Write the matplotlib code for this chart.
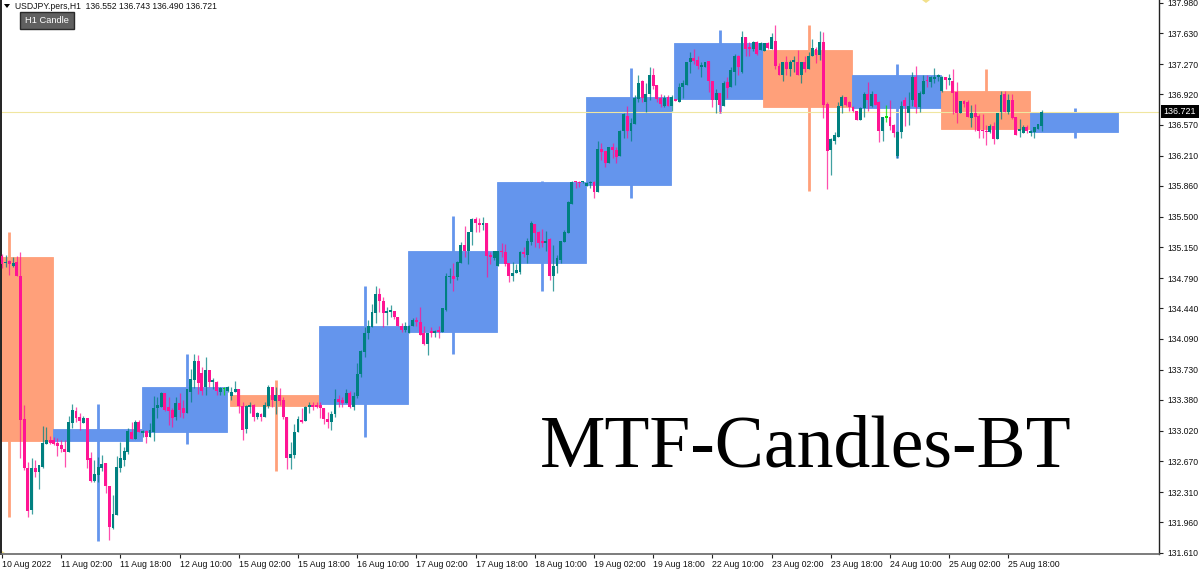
import matplotlib
matplotlib.use("Agg")
import matplotlib.pyplot as plt
from matplotlib.patches import Rectangle

opens = [135.05,134.96,134.99,134.93,134.98,134.82,133.16,132.59,132.10,132.59,
132.54,132.60,132.87,132.92,132.92,132.88,132.86,132.81,132.78,133.11,
133.25,133.18,133.11,133.17,132.70,132.44,132.51,132.59,132.65,132.38,
131.90,132.05,132.59,132.68,132.78,133.01,132.93,133.12,132.99,133.02,
132.95,133.01,133.28,133.30,133.46,133.30,133.26,133.18,133.34,133.28,
133.23,133.47,133.61,133.83,133.69,133.53,133.72,133.59,133.59,133.47,
133.50,133.48,133.43,133.47,133.51,133.31,133.04,133.30,133.32,133.18,
133.22,133.18,133.31,133.53,133.37,133.44,133.38,133.18,132.70,132.74,
133.01,133.15,133.14,133.30,133.32,133.32,133.32,133.29,133.16,133.12,
133.21,133.39,133.38,133.34,133.46,133.30,133.43,133.68,133.94,134.16,
134.22,134.39,134.61,134.52,134.39,134.40,134.41,134.34,134.24,134.19,
134.16,134.23,134.31,134.28,134.15,134.03,134.17,134.16,134.18,134.17,
134.42,134.80,134.82,134.80,134.97,135.17,135.11,135.32,135.48,135.43,
135.41,135.43,135.06,135.02,134.93,135.10,135.09,134.97,134.82,134.85,
134.86,135.09,135.06,135.21,135.42,135.32,135.21,135.20,135.24,134.81,
134.93,135.00,135.21,135.31,135.65,135.91,135.91,135.90,135.86,135.89,
135.91,135.79,136.29,136.26,136.13,136.31,136.28,136.21,136.49,136.67,
136.49,136.58,136.87,137.07,136.83,136.92,137.14,137.03,136.88,136.79,
136.89,136.78,136.87,136.83,137.00,137.03,137.29,137.34,137.32,137.24,
137.24,137.31,137.07,136.85,136.94,136.78,137.06,137.00,137.18,137.36,
137.18,137.59,137.46,137.45,137.53,137.44,137.42,137.52,137.45,137.54,
137.25,137.15,137.29,137.22,137.30,137.30,137.15,137.29,137.22,137.36,
137.45,137.38,137.53,136.81,136.27,136.38,136.43,136.78,136.89,136.83,
136.77,136.73,136.62,136.76,136.92,136.79,136.92,136.83,136.50,136.65,
136.66,136.57,136.21,136.48,136.85,136.71,136.86,137.12,136.77,136.93,
137.08,137.06,137.10,137.12,136.96,137.12,137.09,137.07,136.95,136.71,
136.84,136.83,136.65,136.71,136.67,136.50,136.49,136.48,136.55,136.40,
136.72,136.92,136.72,136.85,136.66,136.49,136.47,136.54,136.47,136.48,136.52,136.552]

closes = [134.95,134.98,134.95,134.97,134.82,133.15,132.59,132.09,132.59,132.54,
132.63,132.88,132.92,132.88,132.87,132.85,132.81,132.77,133.12,133.26,
133.17,133.14,133.17,132.68,132.44,132.52,132.60,132.64,132.38,131.91,
132.06,132.60,132.70,132.79,133.02,132.93,133.12,133.01,133.02,132.95,
133.03,133.29,133.32,133.46,133.26,133.25,133.17,133.34,133.26,133.23,
133.50,133.62,133.83,133.58,133.48,133.73,133.59,133.60,133.48,133.52,
133.50,133.53,133.47,133.51,133.31,133.03,133.31,133.32,133.18,133.23,
133.18,133.32,133.53,133.38,133.44,133.37,133.18,132.70,132.75,133.01,
133.16,133.12,133.30,133.32,133.30,133.30,133.28,133.16,133.12,133.21,
133.39,133.36,133.34,133.46,133.30,133.43,133.68,133.95,134.16,134.23,
134.40,134.61,134.52,134.39,134.40,134.41,134.34,134.24,134.19,134.24,
134.23,134.30,134.28,134.13,134.03,134.16,134.16,134.17,134.17,134.44,
134.81,134.81,134.78,134.98,135.18,135.11,135.32,135.48,135.43,135.41,
135.43,135.05,135.03,135.10,135.10,135.09,134.95,134.81,134.85,134.88,
135.09,135.07,135.22,135.43,135.31,135.20,135.20,135.22,134.81,134.93,
135.02,135.22,135.32,135.67,135.90,135.90,135.89,135.91,135.89,135.91,
135.79,136.29,136.25,136.13,136.31,136.27,136.20,136.50,136.69,136.49,
136.59,136.88,137.05,136.88,136.93,137.14,137.02,136.87,136.81,136.88,
136.79,136.89,136.84,137.01,137.05,137.29,137.34,137.31,137.25,137.25,
137.30,137.07,136.85,136.94,136.80,137.05,136.99,137.20,137.36,137.24,
137.59,137.45,137.45,137.53,137.39,137.52,137.51,137.46,137.59,137.25,
137.15,137.29,137.21,137.30,137.30,137.15,137.29,137.21,137.37,137.46,
137.38,137.53,136.80,136.26,136.40,136.45,136.79,136.89,136.80,136.77,
136.73,136.62,136.76,136.92,136.85,136.92,136.80,136.50,136.66,136.65,
136.55,136.47,136.48,136.79,136.78,136.79,137.12,136.77,136.94,137.08,
137.07,137.12,137.12,137.13,137.12,137.09,137.10,136.94,136.71,136.84,
136.81,136.66,136.71,136.66,136.50,136.49,136.48,136.55,136.40,136.70,
136.91,136.72,136.85,136.65,136.45,136.52,136.54,136.50,136.50,136.54,136.58,136.721]

highs = [135.07,135.06,135.00,135.03,135.05,135.09,133.32,132.66,132.70,132.68,
132.63,133.08,133.07,132.96,132.95,132.94,132.92,132.92,133.19,133.33,
133.30,133.23,133.19,133.17,132.77,132.68,132.72,132.74,132.65,132.38,
132.28,132.73,132.89,132.83,133.05,133.12,133.15,133.15,133.03,133.03,
133.11,133.43,133.41,133.47,133.46,133.41,133.29,133.41,133.46,133.38,
133.50,133.74,133.91,133.90,133.76,133.88,133.73,133.63,133.60,133.53,
133.53,133.54,133.53,133.60,133.51,133.36,133.32,133.36,133.33,133.24,
133.23,133.36,133.55,133.53,133.53,133.52,133.41,133.18,132.89,133.10,
133.19,133.29,133.31,133.35,133.36,133.36,133.35,133.29,133.24,133.25,
133.50,133.44,133.41,133.50,133.48,133.47,133.81,133.96,134.22,134.31,
134.49,134.70,134.68,134.57,134.46,134.48,134.41,134.34,134.27,134.28,
134.25,134.33,134.34,134.45,134.23,134.16,134.22,134.19,134.23,134.44,
134.85,134.91,134.97,134.99,135.21,135.40,135.32,135.49,135.50,135.49,
135.50,135.43,135.09,135.11,135.11,135.20,135.19,134.97,134.98,134.95,
135.10,135.15,135.26,135.45,135.42,135.34,135.36,135.34,135.25,135.17,
135.06,135.22,135.35,135.68,135.92,135.92,135.92,135.92,135.90,135.92,
135.92,136.38,136.36,136.26,136.31,136.36,136.31,136.51,136.71,136.78,
136.65,136.91,137.15,137.09,137.05,137.24,137.23,137.03,136.92,136.91,
136.91,136.91,136.87,137.05,137.09,137.29,137.41,137.45,137.37,137.30,
137.30,137.31,137.08,136.98,136.94,137.07,137.12,137.24,137.39,137.38,
137.66,137.59,137.53,137.54,137.54,137.53,137.52,137.53,137.63,137.72,
137.28,137.29,137.36,137.32,137.36,137.43,137.29,137.36,137.41,137.56,
137.47,137.65,137.64,136.83,136.42,136.48,136.83,136.91,136.89,136.84,
136.78,136.73,136.77,136.95,137.06,136.96,136.92,136.84,136.66,136.80,
136.86,136.58,136.49,136.84,136.89,136.95,137.18,137.25,136.96,137.15,
137.15,137.13,137.23,137.16,137.13,137.12,137.16,137.22,137.06,136.84,
136.86,136.86,136.80,136.81,136.69,136.69,136.57,136.58,136.60,136.70,
136.96,136.96,136.92,136.92,136.66,136.64,136.57,136.56,136.51,136.54,136.58,136.743]

lows = [134.91,134.92,134.83,134.92,134.81,132.70,132.57,132.02,132.06,132.49,
132.35,132.59,132.87,132.87,132.86,132.73,132.77,132.60,132.78,133.05,
133.12,133.03,133.11,132.59,132.43,132.43,132.43,132.56,132.30,131.76,
131.88,132.05,132.54,132.61,132.75,132.93,132.93,133.01,132.95,132.88,
132.95,132.90,133.17,133.30,133.25,133.09,133.07,133.15,133.18,133.17,
133.23,133.36,133.52,133.45,133.44,133.44,133.53,133.50,133.44,133.44,
133.44,133.47,133.38,133.47,133.23,132.92,133.00,133.23,133.14,133.16,
133.14,133.18,133.28,133.30,133.21,133.32,133.16,132.58,132.58,132.70,
133.01,133.11,133.14,133.23,133.26,133.29,133.17,133.10,133.05,133.03,
133.18,133.30,133.30,133.34,133.29,133.26,133.40,133.65,133.88,134.08,
134.22,134.27,134.40,134.22,134.25,134.34,134.32,134.23,134.17,134.17,
134.15,134.23,134.23,134.13,134.02,133.90,134.11,134.11,134.10,134.17,
134.41,134.73,134.64,134.77,134.96,135.03,134.95,135.18,135.32,135.32,
135.35,134.80,134.95,135.00,134.93,135.04,134.93,134.74,134.76,134.85,
134.84,135.04,134.97,135.18,135.15,135.14,135.15,135.10,134.77,134.64,
134.85,134.96,135.21,135.31,135.65,135.84,135.85,135.89,135.86,135.83,
135.72,135.79,136.16,136.08,136.13,136.18,136.13,136.21,136.42,136.42,
136.38,136.58,136.83,136.83,136.72,136.86,136.98,136.83,136.77,136.77,
136.78,136.73,136.84,136.83,136.88,137.03,137.17,137.27,137.21,137.12,
137.24,136.95,136.77,136.71,136.71,136.78,136.88,137.00,137.03,137.15,
137.17,137.36,137.36,137.42,137.38,137.44,137.42,137.45,137.45,137.21,
137.14,137.08,137.15,137.13,137.18,137.15,137.05,137.18,137.22,137.36,
137.28,137.32,136.65,135.82,135.99,136.34,136.43,136.71,136.79,136.73,
136.72,136.62,136.62,136.66,136.73,136.77,136.80,136.37,136.38,136.60,
136.51,136.43,136.18,136.41,136.55,136.57,136.78,136.70,136.72,136.92,
137.01,137.01,137.05,137.08,136.95,136.98,137.03,136.69,136.59,136.70,
136.77,136.66,136.54,136.49,136.41,136.41,136.33,136.47,136.34,136.40,
136.63,136.72,136.69,136.64,136.45,136.43,136.47,136.47,136.44,136.42,136.52,136.490]

# daily (higher timeframe) candles: bar index range and OHLC
day_start = [-10, 14, 38, 62, 86, 110, 134, 158, 182, 206, 230, 254, 278]
day_end   = [14, 38, 61, 86, 110, 134, 158, 181, 206, 230, 254, 278, 302]
day_open  = [135.04,132.90,133.01,133.44,133.33,134.17,134.96,135.87,136.87,137.43,136.76,136.96,136.48]
day_close = [132.90,133.04,133.53,133.31,134.24,135.10,135.91,136.89,137.52,136.77,137.14,136.52,136.721]
day_high  = [135.32,133.33,133.91,133.61,134.70,135.51,135.92,137.23,137.67,137.73,137.27,137.22,136.76]
day_low   = [132.02,131.74,132.87,132.56,132.95,133.91,134.64,135.72,136.71,135.80,136.18,136.52,136.42]

doji_bars = [60, 239]
price_ticks = [137.980,137.630,137.270,136.920,136.570,136.210,135.860,135.500,135.150,134.790,
               134.440,134.090,133.730,133.380,133.020,132.670,132.310,131.960,131.610]
time_bars = list(range(0, 273, 16))
time_labels = ["10 Aug 2022","11 Aug 02:00","11 Aug 18:00","12 Aug 10:00","15 Aug 02:00","15 Aug 18:00",
               "16 Aug 10:00","17 Aug 02:00","17 Aug 18:00","18 Aug 10:00","19 Aug 02:00","19 Aug 18:00",
               "22 Aug 10:00","23 Aug 02:00","23 Aug 18:00","24 Aug 10:00","25 Aug 02:00","25 Aug 18:00"]
last_price = 136.721
header = "USDJPY.pers,H1  136.552 136.743 136.490 136.721"
button = "H1 Candle"
banner = "MTF-Candles-BT"

TEAL, PINK, LIME = "#008080", "#FF1493", "#00E000"
BLUE, SALMON = "#6495ED", "#FFA07A"
W, H = 1200, 574

plt.rcParams["font.family"] = ["Liberation Sans", "DejaVu Sans"]
fig = plt.figure(figsize=(W / 100, H / 100), dpi=100, facecolor="white")
ax = fig.add_axes([1 / W, 1 - 554 / H, 1158 / W, 554 / H])
ax.set_xlim(-0.27, 312.7)
ax.set_ylim(131.593, 138.014)

# daily candles
for s, e, o, c, hi, lo in zip(day_start, day_end, day_open, day_close, day_high, day_low):
    col = BLUE if c >= o else SALMON
    ax.bar((s + e) / 2 - 0.25, abs(c - o), width=e - s, bottom=min(o, c), color=col,
           edgecolor=col, linewidth=0.6, zorder=2)
    ax.vlines(s + 12, lo, hi, color=col, linewidth=2.0, zorder=2)

ax.axhline(last_price, color="#F0E6A0", linewidth=0.8, zorder=2.5)

# hourly candles
for i, (o, hi, lo, c) in enumerate(zip(opens, highs, lows, closes)):
    col = LIME if i in doji_bars else (TEAL if c >= o else PINK)
    ax.vlines(i, lo, hi, color=col, linewidth=0.9, alpha=0.75, zorder=3)
    ax.bar(i, max(abs(c - o), 0.02), width=0.8, bottom=min(o, c), color=col, linewidth=0, zorder=4)

ax.yaxis.tick_right()
ax.set_yticks(price_ticks)
ax.set_yticklabels([f"{v:.3f}" for v in price_ticks])
ax.set_xticks(time_bars)
ax.set_xticklabels(time_labels, ha="left")
ax.tick_params(axis="y", length=3, width=0.8, color="#222222", labelsize=6.2, pad=3, labelcolor="#111111")
ax.tick_params(axis="x", length=3, width=0.8, color="#222222", labelsize=6.3, pad=1, labelcolor="#111111")
for sp in ["left", "right", "bottom"]:
    ax.spines[sp].set_color("#222222")
ax.spines["left"].set_linewidth(1.4)
ax.spines["right"].set_linewidth(1.0)
ax.spines["bottom"].set_color("#666666")
ax.spines["bottom"].set_linewidth(1.2)
ax.spines["top"].set_visible(False)

# overlay in pixel coordinates
ov = fig.add_axes([0, 0, 1, 1], facecolor="none")
ov.set_xlim(0, W)
ov.set_ylim(H, 0)
ov.axis("off")
ov.fill([4, 10, 7], [4, 4, 8], color="black", lw=0)
ov.text(15, 6.5, header, fontsize=6.2, color="#111111", va="center", ha="left")
ov.add_patch(Rectangle((20, 12), 54, 17, facecolor="#606060", edgecolor="#2a2a2a", linewidth=1))
ov.text(47, 20.5, button, fontsize=6.7, color="white", va="center", ha="center")
ov.add_patch(Rectangle((1161, 105), 38, 13, facecolor="black", edgecolor="none"))
ov.text(1180, 111.5, f"{last_price:.3f}", fontsize=6.4, color="white", va="center", ha="center")
ov.fill([926, 930, 926, 922], [-3, 0, 3, 0], color="#F2E08A", lw=0)
ov.fill([2, 5, 2], [551, 553, 553], color="#F2E08A", lw=0)
ov.text(806, 449, banner, fontsize=53, family="Liberation Serif", color="black", va="center", ha="center")

fig.savefig("out.png", dpi=100)
